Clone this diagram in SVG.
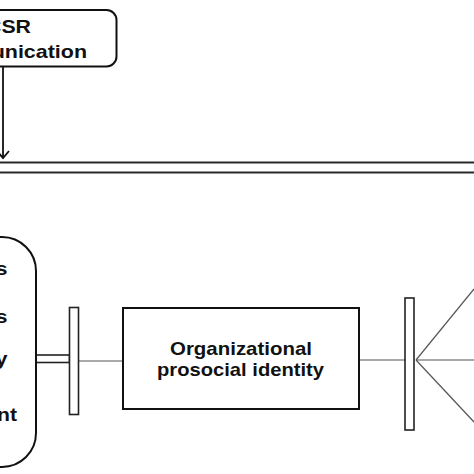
<svg xmlns="http://www.w3.org/2000/svg" width="474" height="474" viewBox="0 0 474 474">
<style>
.box{fill:#fff;stroke:#111;stroke-width:2}
.bar{fill:#fff;stroke:#222;stroke-width:1.6}
.thin{fill:none;stroke:#555;stroke-width:1.2}
.lbl{font-family:"Liberation Sans",Arial,sans-serif;font-weight:bold;font-size:19px;fill:#111}
</style>
<rect width="474" height="474" fill="#fff"/>
<g id="connectors">
<line x1="3" y1="66" x2="3" y2="158" stroke="#111" stroke-width="1.8"/>
<polyline points="-3,151 3,158 9,151" fill="none" stroke="#111" stroke-width="1.8"/>
<line x1="0" y1="162.5" x2="474" y2="162.5" stroke="#2a2a2a" stroke-width="2"/>
<line x1="0" y1="172.5" x2="474" y2="172.5" stroke="#2a2a2a" stroke-width="2"/>
<rect x="36" y="355" width="33.5" height="7.5" fill="#fff" stroke="#222" stroke-width="1.6"/>
<line class="thin" x1="78.5" y1="361" x2="123" y2="361"/>
<line class="thin" x1="359" y1="360" x2="405" y2="360"/>
<line class="thin" x1="416" y1="360" x2="474" y2="289"/>
<line class="thin" x1="416" y1="360" x2="474" y2="360"/>
<line class="thin" x1="416" y1="360" x2="474" y2="422"/>
</g>
<g id="csr">
<rect class="box" x="-110" y="10" width="226.5" height="56.5" rx="10"/>
<text class="lbl" x="31" y="33" text-anchor="end" textLength="45" lengthAdjust="spacingAndGlyphs">CSR</text>
<text class="lbl" x="87" y="58" text-anchor="end" textLength="162" lengthAdjust="spacingAndGlyphs">Communication</text>
</g>
<g id="left-box">
<rect class="box" x="-150" y="237" width="186" height="230" rx="34"/>
<text class="lbl" x="7.5" y="275" text-anchor="end" textLength="12" lengthAdjust="spacingAndGlyphs">s</text>
<text class="lbl" x="7.5" y="323" text-anchor="end" textLength="12" lengthAdjust="spacingAndGlyphs">s</text>
<text class="lbl" x="7.5" y="365" text-anchor="end" textLength="12" lengthAdjust="spacingAndGlyphs">y</text>
<text class="lbl" x="17" y="421" text-anchor="end" textLength="20" lengthAdjust="spacingAndGlyphs">nt</text>
</g>
<g id="bar-left">
<rect class="bar" x="69.5" y="307.5" width="9" height="107"/>
</g>
<g id="identity">
<rect class="box" x="123" y="308" width="236" height="101"/>
<text class="lbl" x="241" y="355" text-anchor="middle" textLength="142" lengthAdjust="spacingAndGlyphs">Organizational</text>
<text class="lbl" x="240.5" y="376" text-anchor="middle" textLength="167" lengthAdjust="spacingAndGlyphs">prosocial identity</text>
</g>
<g id="bar-right">
<rect class="bar" x="405" y="298" width="9" height="132"/>
</g>
</svg>
